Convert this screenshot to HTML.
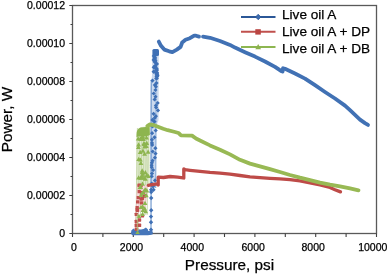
<!DOCTYPE html>
<html><head><meta charset="utf-8"><style>
html,body{margin:0;padding:0;background:#fff;}
svg{display:block;}
.t{font-family:"Liberation Sans",Arial,sans-serif;font-size:10.5px;fill:#000;stroke:#000;stroke-width:0.25px;}
.ax{font-family:"Liberation Sans",Arial,sans-serif;font-size:15.3px;fill:#000;stroke:#000;stroke-width:0.25px;}
.lg{font-family:"Liberation Sans",Arial,sans-serif;font-size:13.6px;fill:#000;stroke:#000;stroke-width:0.25px;}
</style></head><body>
<svg width="388" height="275" viewBox="0 0 388 275">
<rect width="388" height="275" fill="#fff"/>
<rect x="72.5" y="5.5" width="304" height="228" fill="none" stroke="#595959" stroke-width="1.3"/>
<path d="M69.3 5.5H72.5 M70.5 24.5H72.5 M69.3 43.5H72.5 M70.5 62.5H72.5 M69.3 81.5H72.5 M70.5 100.5H72.5 M69.3 119.5H72.5 M70.5 138.5H72.5 M69.3 157.5H72.5 M70.5 176.5H72.5 M69.3 195.5H72.5 M70.5 214.5H72.5 M69.3 233.5H72.5 M72.5 233.5V237 M102.9 233.5V237 M133.3 233.5V237 M163.7 233.5V237 M194.1 233.5V237 M224.5 233.5V237 M254.9 233.5V237 M285.3 233.5V237 M315.7 233.5V237 M346.1 233.5V237 M376.5 233.5V237" stroke="#404040" stroke-width="1.1" fill="none"/>
<text x="65" y="9.4" text-anchor="end" class="t">0.00012</text>
<text x="65" y="47.4" text-anchor="end" class="t">0.00010</text>
<text x="65" y="85.4" text-anchor="end" class="t">0.00008</text>
<text x="65" y="123.4" text-anchor="end" class="t">0.00006</text>
<text x="65" y="161.4" text-anchor="end" class="t">0.00004</text>
<text x="65" y="199.4" text-anchor="end" class="t">0.00002</text>
<text x="65" y="237.4" text-anchor="end" class="t">0</text>
<text x="74.0" y="251.3" text-anchor="middle" class="t">0</text>
<text x="131.5" y="251.3" text-anchor="middle" class="t">2000</text>
<text x="192.3" y="251.3" text-anchor="middle" class="t">4000</text>
<text x="253.2" y="251.3" text-anchor="middle" class="t">6000</text>
<text x="313.2" y="251.3" text-anchor="middle" class="t">8000</text>
<text x="372.8" y="251.3" text-anchor="middle" class="t">10000</text>
<text x="229.5" y="270" text-anchor="middle" class="ax">Pressure, psi</text>
<text transform="translate(12 119.5) rotate(-90)" text-anchor="middle" class="ax">Power, W</text>
<path d="M152.3 55 L158.8 55 L158.6 120 L156.6 125 L156.4 188 L150 188 L150 125 L150.6 88 L152 75z" fill="#CCDAEE"/>
<line x1="151.3" y1="80" x2="151" y2="232" stroke="#7FA3D3" stroke-width="1.3"/>
<line x1="156.2" y1="52" x2="155.6" y2="188" stroke="#8FB0DA" stroke-width="1"/>
<rect x="152.4" y="49" width="6.6" height="7" rx="1.5" fill="#3F70B5"/>
<path d="M154.0 53.6l2.4 2.4l-2.4 2.4l-2.4-2.4z" fill="#3F70B5"/>
<path d="M154.7 55.3l2.4 2.4l-2.4 2.4l-2.4-2.4z" fill="#3F70B5"/>
<path d="M154.6 56.6l2.4 2.4l-2.4 2.4l-2.4-2.4z" fill="#3F70B5"/>
<path d="M153.9 57.5l2.4 2.4l-2.4 2.4l-2.4-2.4z" fill="#3F70B5"/>
<path d="M155.1 58.4l2.4 2.4l-2.4 2.4l-2.4-2.4z" fill="#3F70B5"/>
<path d="M154.8 59.4l2.4 2.4l-2.4 2.4l-2.4-2.4z" fill="#3F70B5"/>
<path d="M156.7 61.5l2.4 2.4l-2.4 2.4l-2.4-2.4z" fill="#3F70B5"/>
<path d="M155.2 63.7l2.4 2.4l-2.4 2.4l-2.4-2.4z" fill="#3F70B5"/>
<path d="M154.0 64.9l2.4 2.4l-2.4 2.4l-2.4-2.4z" fill="#3F70B5"/>
<path d="M156.3 66.1l2.4 2.4l-2.4 2.4l-2.4-2.4z" fill="#3F70B5"/>
<path d="M156.7 67.7l2.4 2.4l-2.4 2.4l-2.4-2.4z" fill="#3F70B5"/>
<path d="M153.9 69.3l2.4 2.4l-2.4 2.4l-2.4-2.4z" fill="#3F70B5"/>
<path d="M156.8 70.4l2.4 2.4l-2.4 2.4l-2.4-2.4z" fill="#3F70B5"/>
<path d="M156.8 71.6l2.4 2.4l-2.4 2.4l-2.4-2.4z" fill="#3F70B5"/>
<path d="M157.3 72.8l2.4 2.4l-2.4 2.4l-2.4-2.4z" fill="#3F70B5"/>
<path d="M156.9 74.0l2.4 2.4l-2.4 2.4l-2.4-2.4z" fill="#3F70B5"/>
<path d="M156.5 76.0l2.4 2.4l-2.4 2.4l-2.4-2.4z" fill="#3F70B5"/>
<path d="M152.5 78.5l2.1 2.1l-2.1 2.1l-2.1-2.1z" fill="#3F70B5"/>
<path d="M156.5 81.0l2.1 2.1l-2.1 2.1l-2.1-2.1z" fill="#3F70B5"/>
<path d="M154.8 82.9l2.1 2.1l-2.1 2.1l-2.1-2.1z" fill="#3F70B5"/>
<path d="M155.9 84.6l2.1 2.1l-2.1 2.1l-2.1-2.1z" fill="#3F70B5"/>
<path d="M155.4 87.9l2.1 2.1l-2.1 2.1l-2.1-2.1z" fill="#3F70B5"/>
<path d="M153.7 91.4l2.1 2.1l-2.1 2.1l-2.1-2.1z" fill="#3F70B5"/>
<path d="M155.5 94.6l2.1 2.1l-2.1 2.1l-2.1-2.1z" fill="#3F70B5"/>
<path d="M154.6 97.4l2.1 2.1l-2.1 2.1l-2.1-2.1z" fill="#3F70B5"/>
<path d="M157.7 100.9l2.1 2.1l-2.1 2.1l-2.1-2.1z" fill="#3F70B5"/>
<path d="M155.9 103.5l2.1 2.1l-2.1 2.1l-2.1-2.1z" fill="#3F70B5"/>
<path d="M156.1 105.3l2.1 2.1l-2.1 2.1l-2.1-2.1z" fill="#3F70B5"/>
<path d="M158.0 108.3l2.1 2.1l-2.1 2.1l-2.1-2.1z" fill="#3F70B5"/>
<path d="M153.6 111.7l2.1 2.1l-2.1 2.1l-2.1-2.1z" fill="#3F70B5"/>
<path d="M155.9 114.1l2.1 2.1l-2.1 2.1l-2.1-2.1z" fill="#3F70B5"/>
<path d="M154.7 115.8l2.1 2.1l-2.1 2.1l-2.1-2.1z" fill="#3F70B5"/>
<path d="M152.5 117.8l2.1 2.1l-2.1 2.1l-2.1-2.1z" fill="#3F70B5"/>
<path d="M154.5 119.5l2.1 2.1l-2.1 2.1l-2.1-2.1z" fill="#3F70B5"/>
<path d="M153.1 122.1l2.1 2.1l-2.1 2.1l-2.1-2.1z" fill="#3F70B5"/>
<path d="M152.5 124.3l2.1 2.1l-2.1 2.1l-2.1-2.1z" fill="#3F70B5"/>
<path d="M155.7 128.4l2.1 2.1l-2.1 2.1l-2.1-2.1z" fill="#3F70B5"/>
<path d="M152.1 131.1l2.1 2.1l-2.1 2.1l-2.1-2.1z" fill="#3F70B5"/>
<path d="M154.5 135.2l2.1 2.1l-2.1 2.1l-2.1-2.1z" fill="#3F70B5"/>
<path d="M151.9 137.6l2.1 2.1l-2.1 2.1l-2.1-2.1z" fill="#3F70B5"/>
<path d="M152.0 140.8l2.1 2.1l-2.1 2.1l-2.1-2.1z" fill="#3F70B5"/>
<path d="M152.2 142.8l2.1 2.1l-2.1 2.1l-2.1-2.1z" fill="#3F70B5"/>
<path d="M155.4 146.1l2.1 2.1l-2.1 2.1l-2.1-2.1z" fill="#3F70B5"/>
<path d="M152.7 149.4l2.1 2.1l-2.1 2.1l-2.1-2.1z" fill="#3F70B5"/>
<path d="M155.5 151.5l2.1 2.1l-2.1 2.1l-2.1-2.1z" fill="#3F70B5"/>
<path d="M154.9 155.6l2.1 2.1l-2.1 2.1l-2.1-2.1z" fill="#3F70B5"/>
<path d="M152.6 158.6l2.1 2.1l-2.1 2.1l-2.1-2.1z" fill="#3F70B5"/>
<path d="M151.9 160.7l2.1 2.1l-2.1 2.1l-2.1-2.1z" fill="#3F70B5"/>
<path d="M151.6 163.1l2.1 2.1l-2.1 2.1l-2.1-2.1z" fill="#3F70B5"/>
<path d="M151.7 165.1l2.1 2.1l-2.1 2.1l-2.1-2.1z" fill="#3F70B5"/>
<path d="M153.1 168.0l2.1 2.1l-2.1 2.1l-2.1-2.1z" fill="#3F70B5"/>
<path d="M152.0 171.4l2.1 2.1l-2.1 2.1l-2.1-2.1z" fill="#3F70B5"/>
<path d="M151.7 174.3l2.1 2.1l-2.1 2.1l-2.1-2.1z" fill="#3F70B5"/>
<path d="M155.0 178.3l2.1 2.1l-2.1 2.1l-2.1-2.1z" fill="#3F70B5"/>
<path d="M151.7 181.5l2.1 2.1l-2.1 2.1l-2.1-2.1z" fill="#3F70B5"/>
<path d="M153.0 184.3l2.1 2.1l-2.1 2.1l-2.1-2.1z" fill="#3F70B5"/>
<path d="M151.2 187.5l2.2 2.2l-2.2 2.2l-2.2-2.2z" fill="#3F70B5"/>
<path d="M153.5 187.5l2.2 2.2l-2.2 2.2l-2.2-2.2z" fill="#3F70B5"/>
<path d="M151.2 189.8l2.2 2.2l-2.2 2.2l-2.2-2.2z" fill="#3F70B5"/>
<path d="M151.2 195.8l2.2 2.2l-2.2 2.2l-2.2-2.2z" fill="#3F70B5"/>
<path d="M151.2 208.1l2.2 2.2l-2.2 2.2l-2.2-2.2z" fill="#3F70B5"/>
<path d="M151.0 214.4l2.2 2.2l-2.2 2.2l-2.2-2.2z" fill="#3F70B5"/>
<path d="M151.0 220.1l2.2 2.2l-2.2 2.2l-2.2-2.2z" fill="#3F70B5"/>
<path d="M151.0 227.5l2.2 2.2l-2.2 2.2l-2.2-2.2z" fill="#3F70B5"/>
<path d="M131 232.5 C131 230.2 133 229.3 136 229.3 L141 229.6 L143.5 229 L145.5 228.3 L147.5 229.5 L148.5 231 L152.6 231.2 L152.6 234.4 L148 235.2 L134 235.3 C132 235.3 131 234.5 131 232.5Z" fill="#4676BA"/>
<path d="M145.8 227.4l2.2 2.2l-2.2 2.2l-2.2-2.2z" fill="#4676BA"/>
<path d="M133.5 228.4l2.2 2.2l-2.2 2.2l-2.2-2.2z" fill="#4676BA"/>
<path d="M150.6 230.4l2.2 2.2l-2.2 2.2l-2.2-2.2z" fill="#4676BA"/>
<polyline points="158.8,41.6 161.0,45.8 164.3,49.6 169.2,51.3 172.4,52.1 176.8,49.6 180.6,46.9 182.2,42.5 185.5,39.8 189.9,38.2 194.2,35.6 196.0,35.7 199.0,36.6" fill="none" stroke="#4171B4" stroke-width="3.8" stroke-linejoin="round" stroke-linecap="round"/>
<polyline points="203.0,36.6 210.0,37.8 220.0,41.0 230.0,44.9 235.0,47.6 245.0,52.2 255.0,56.6 265.0,61.5 275.0,66.9 281.0,70.9 282.6,71.6 283.0,68.2 285.0,68.8 295.0,73.5 305.0,78.6 315.0,85.2 325.0,92.0 335.0,98.5 345.0,105.6 350.0,110.2 360.0,119.6 365.0,123.1 368.0,124.9" fill="none" stroke="#4171B4" stroke-width="3.8" stroke-linejoin="round" stroke-linecap="round"/>
<path d="M136.3 135 L136.8 131 L138.5 128.2 L141 127 L146 126.6 L149.6 124.5 L149.8 185 L136.3 185z" fill="#DDE8CA" fill-opacity="0.9"/>
<line x1="137.4" y1="128" x2="135.9" y2="231" stroke="#BCD19A" stroke-width="0.8"/>
<line x1="139.6" y1="128" x2="138.1" y2="231" stroke="#BCD19A" stroke-width="0.8"/>
<line x1="142" y1="128" x2="140.5" y2="215" stroke="#BCD19A" stroke-width="0.8"/>
<line x1="144.3" y1="128" x2="142.8" y2="215" stroke="#BCD19A" stroke-width="0.8"/>
<line x1="146.6" y1="128" x2="145.1" y2="215" stroke="#BCD19A" stroke-width="0.8"/>
<line x1="148.6" y1="128" x2="147.1" y2="215" stroke="#BCD19A" stroke-width="0.8"/>
<path d="M137 185 L148 185 L147 200 L145 212 L136 212z" fill="#F4E2E1"/>
<line x1="137.5" y1="185" x2="135.0" y2="230" stroke="#E6B8B6" stroke-width="0.7"/>
<line x1="140" y1="185" x2="137.5" y2="230" stroke="#E6B8B6" stroke-width="0.7"/>
<line x1="142.5" y1="185" x2="140.0" y2="212" stroke="#E6B8B6" stroke-width="0.7"/>
<line x1="145" y1="185" x2="142.5" y2="212" stroke="#E6B8B6" stroke-width="0.7"/>
<line x1="147" y1="185" x2="144.5" y2="212" stroke="#E6B8B6" stroke-width="0.7"/>
<rect x="141.4" y="192.0" width="3.4" height="3.4" rx="0.6" fill="#C0504D"/>
<rect x="142.9" y="194.4" width="3.4" height="3.4" rx="0.6" fill="#C0504D"/>
<rect x="142.7" y="193.7" width="3.4" height="3.4" rx="0.6" fill="#C0504D"/>
<rect x="139.3" y="183.7" width="3.4" height="3.4" rx="0.6" fill="#C0504D"/>
<rect x="140.7" y="196.5" width="3.4" height="3.4" rx="0.6" fill="#C0504D"/>
<rect x="136.6" y="195.9" width="3.4" height="3.4" rx="0.6" fill="#C0504D"/>
<rect x="137.6" y="189.9" width="3.4" height="3.4" rx="0.6" fill="#C0504D"/>
<rect x="140.1" y="190.9" width="3.4" height="3.4" rx="0.6" fill="#C0504D"/>
<rect x="137.4" y="183.5" width="3.4" height="3.4" rx="0.6" fill="#C0504D"/>
<rect x="139.8" y="201.2" width="3.4" height="3.4" rx="0.6" fill="#C0504D"/>
<rect x="135.7" y="208.0" width="3.4" height="3.4" rx="0.6" fill="#C0504D"/>
<rect x="135.6" y="208.5" width="3.4" height="3.4" rx="0.6" fill="#C0504D"/>
<rect x="135.5" y="205.9" width="3.4" height="3.4" rx="0.6" fill="#C0504D"/>
<rect x="139.6" y="197.3" width="3.4" height="3.4" rx="0.6" fill="#C0504D"/>
<rect x="136.0" y="200.2" width="3.4" height="3.4" rx="0.6" fill="#C0504D"/>
<rect x="134.6" y="212.7" width="3.4" height="3.4" rx="0.6" fill="#C0504D"/>
<rect x="134.6" y="219.7" width="3.4" height="3.4" rx="0.6" fill="#C0504D"/>
<rect x="134.6" y="223.6" width="3.4" height="3.4" rx="0.6" fill="#C0504D"/>
<rect x="134.8" y="227.6" width="3.4" height="3.4" rx="0.6" fill="#C0504D"/>
<rect x="137.8" y="218.3" width="3.4" height="3.4" rx="0.6" fill="#C0504D"/>
<rect x="137.8" y="223.6" width="3.4" height="3.4" rx="0.6" fill="#C0504D"/>
<rect x="140.8" y="214.0" width="3.4" height="3.4" rx="0.6" fill="#C0504D"/>
<polyline points="148.3,185.3 152.0,184.6 157.3,183.8 158.2,185.0 158.2,177.2 163.5,177.5 170.1,176.5 177.7,177.2 183.0,177.8 183.8,178.0 183.8,168.9 185.0,169.7 190.0,170.3 200.0,171.3 210.0,172.4 220.0,173.2 230.0,174.1 240.0,175.5 250.0,176.9 260.0,177.6 270.0,178.3 280.0,178.8 290.0,179.7 300.0,180.9 310.0,182.9 320.0,185.0 330.0,187.5 335.0,189.7 340.5,191.9" fill="none" stroke="#BE4B48" stroke-width="3.3" stroke-linejoin="round" stroke-linecap="round"/>
<path d="M136.5 137 L136.7 132.5 Q137.3 128.6 140.8 127.5 L146 126.9 L149.6 124.5 L149.9 135 L146 136.5 L141 136z" fill="#8DB54F"/>
<path d="M143.9 141.0l2.42 4.18h-4.84z" fill="#8DB54F"/>
<path d="M142.9 148.6l2.42 4.18h-4.84z" fill="#8DB54F"/>
<path d="M144.2 141.9l2.42 4.18h-4.84z" fill="#8DB54F"/>
<path d="M143.4 136.8l2.42 4.18h-4.84z" fill="#8DB54F"/>
<path d="M146.3 143.9l2.42 4.18h-4.84z" fill="#8DB54F"/>
<path d="M141.2 135.3l2.42 4.18h-4.84z" fill="#8DB54F"/>
<path d="M146.5 135.3l2.42 4.18h-4.84z" fill="#8DB54F"/>
<path d="M138.4 144.9l2.42 4.18h-4.84z" fill="#8DB54F"/>
<path d="M148.1 149.5l2.42 4.18h-4.84z" fill="#8DB54F"/>
<path d="M144.5 144.3l2.42 4.18h-4.84z" fill="#8DB54F"/>
<path d="M138.2 136.3l2.42 4.18h-4.84z" fill="#8DB54F"/>
<path d="M138.6 142.3l2.42 4.18h-4.84z" fill="#8DB54F"/>
<path d="M140.5 136.8l2.42 4.18h-4.84z" fill="#8DB54F"/>
<path d="M142.9 134.3l2.42 4.18h-4.84z" fill="#8DB54F"/>
<path d="M146.8 140.8l2.42 4.18h-4.84z" fill="#8DB54F"/>
<path d="M144.7 142.1l2.42 4.18h-4.84z" fill="#8DB54F"/>
<path d="M145.0 141.8l2.42 4.18h-4.84z" fill="#8DB54F"/>
<path d="M140.9 160.8l2.42 4.18h-4.84z" fill="#8DB54F"/>
<path d="M148.5 173.7l2.42 4.18h-4.84z" fill="#8DB54F"/>
<path d="M145.4 170.0l2.42 4.18h-4.84z" fill="#8DB54F"/>
<path d="M140.4 157.4l2.42 4.18h-4.84z" fill="#8DB54F"/>
<path d="M138.7 156.7l2.42 4.18h-4.84z" fill="#8DB54F"/>
<path d="M142.2 168.2l2.42 4.18h-4.84z" fill="#8DB54F"/>
<path d="M142.1 170.1l2.42 4.18h-4.84z" fill="#8DB54F"/>
<path d="M146.9 172.8l2.42 4.18h-4.84z" fill="#8DB54F"/>
<path d="M140.2 149.8l2.42 4.18h-4.84z" fill="#8DB54F"/>
<path d="M142.9 171.6l2.42 4.18h-4.84z" fill="#8DB54F"/>
<path d="M142.2 173.3l2.42 4.18h-4.84z" fill="#8DB54F"/>
<path d="M144.6 151.6l2.42 4.18h-4.84z" fill="#8DB54F"/>
<path d="M140.7 184.7l2.42 4.18h-4.84z" fill="#8DB54F"/>
<path d="M141.3 175.0l2.42 4.18h-4.84z" fill="#8DB54F"/>
<path d="M145.6 187.3l2.42 4.18h-4.84z" fill="#8DB54F"/>
<path d="M140.5 175.5l2.42 4.18h-4.84z" fill="#8DB54F"/>
<path d="M138.6 175.2l2.42 4.18h-4.84z" fill="#8DB54F"/>
<path d="M139.8 185.0l2.42 4.18h-4.84z" fill="#8DB54F"/>
<path d="M142.5 181.6l2.42 4.18h-4.84z" fill="#8DB54F"/>
<path d="M145.3 176.5l2.42 4.18h-4.84z" fill="#8DB54F"/>
<path d="M144.4 175.6l2.42 4.18h-4.84z" fill="#8DB54F"/>
<path d="M142.2 175.4l2.42 4.18h-4.84z" fill="#8DB54F"/>
<path d="M142.3 190.9l2.42 4.18h-4.84z" fill="#8DB54F"/>
<path d="M145.7 209.1l2.42 4.18h-4.84z" fill="#8DB54F"/>
<path d="M146.3 193.1l2.42 4.18h-4.84z" fill="#8DB54F"/>
<path d="M143.1 190.9l2.42 4.18h-4.84z" fill="#8DB54F"/>
<path d="M144.7 206.3l2.42 4.18h-4.84z" fill="#8DB54F"/>
<path d="M146.9 188.2l2.42 4.18h-4.84z" fill="#8DB54F"/>
<path d="M142.2 190.9l2.42 4.18h-4.84z" fill="#8DB54F"/>
<path d="M142.6 204.3l2.42 4.18h-4.84z" fill="#8DB54F"/>
<path d="M141.0 192.9l2.42 4.18h-4.84z" fill="#8DB54F"/>
<path d="M144.3 188.0l2.42 4.18h-4.84z" fill="#8DB54F"/>
<path d="M139.0 213.8l2.42 4.18h-4.84z" fill="#8DB54F"/>
<path d="M142.5 211.8l2.42 4.18h-4.84z" fill="#8DB54F"/>
<path d="M141.0 204.8l2.42 4.18h-4.84z" fill="#8DB54F"/>
<path d="M143.0 207.8l2.42 4.18h-4.84z" fill="#8DB54F"/>
<path d="M145.0 200.8l2.42 4.18h-4.84z" fill="#8DB54F"/>
<line x1="137.4" y1="214" x2="137.3" y2="231" stroke="#AFCB80" stroke-width="0.8"/>
<path d="M137.6 230.3l2.20 3.80h-4.40z" fill="#8DB54F"/>
<polyline points="147.3,126.0 149.5,124.5 154.1,125.2 158.6,127.0 163.2,128.8 167.7,130.2 175.0,132.0 178.5,133.0 181.0,135.3 192.0,135.6 196.0,138.5 200.0,140.5 210.0,145.4 220.0,149.7 230.0,154.4 240.0,159.8 250.0,163.6 260.0,166.4 270.0,169.2 280.0,172.0 290.0,175.0 300.0,177.7 310.0,180.1 320.0,182.6 330.0,184.6 340.0,186.3 350.0,188.3 358.5,190.3" fill="none" stroke="#98B954" stroke-width="3.8" stroke-linejoin="round" stroke-linecap="round"/>
<line x1="241" y1="17" x2="275.5" y2="17" stroke="#2B5797" stroke-width="2"/>
<path d="M258.2 14.3l2.7 2.7l-2.7 2.7l-2.7-2.7z" fill="#3E6DB0" stroke="#2B5797" stroke-width="0.8"/>
<line x1="241" y1="31.8" x2="275.5" y2="31.8" stroke="#C0504D" stroke-width="1.9"/>
<rect x="255.3" y="29.2" width="5.5" height="5.4" fill="#BA4542"/>
<line x1="241" y1="47" x2="275.5" y2="47" stroke="#8DB650" stroke-width="1.9"/>
<path d="M258.2 44.1l2.9 5.2h-5.8z" fill="#8DB34E"/>
<text x="282" y="19.2" class="lg">Live oil A</text>
<text x="282" y="36.1" class="lg">Live oil A + DP</text>
<text x="282" y="53.2" class="lg">Live oil A + DB</text>
</svg></body></html>
